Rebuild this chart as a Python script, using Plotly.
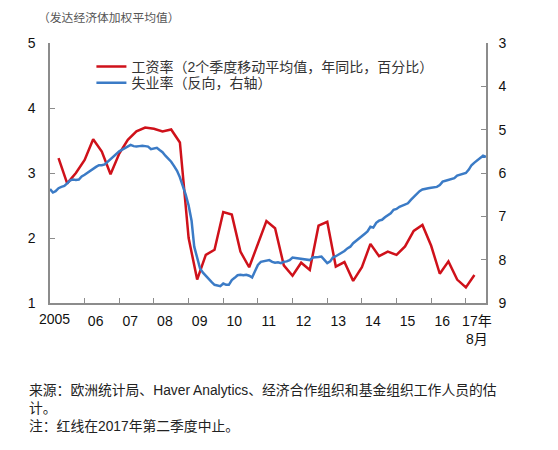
import pandas as pd
import plotly.graph_objects as go

# Wage growth (2-quarter moving average, y/y, percent) - quarterly, 2005Q2 .. 2017Q2
wage_dates = pd.date_range(start="2005-04-01", periods=49, freq="QS")
wage_values = [
    3.23, 2.84, 3.00,
    3.20, 3.52, 3.33, 2.98,
    3.30, 3.51, 3.64, 3.70,
    3.68, 3.64, 3.67, 3.47,
    2.00, 1.36, 1.74, 1.82,
    2.40, 2.36, 1.79, 1.55,
    1.92, 2.26, 2.15, 1.58,
    1.42, 1.62, 1.51, 2.19,
    2.25, 1.56, 1.63, 1.34,
    1.55, 1.91, 1.72, 1.79,
    1.74, 1.87, 2.11, 2.20,
    1.88, 1.45, 1.64, 1.36,
    1.24, 1.43,
]

# Unemployment rate (inverted, right axis) - monthly, 2005-01 .. 2017-08
unemp_dates = pd.date_range(start="2005-01-01", end="2017-08-01", freq="MS")
unemp_values = [
    6.37, 6.45, 6.42, 6.35, 6.32, 6.30, 6.24, 6.17, 6.15, 6.16, 6.15, 6.08,
    6.04, 5.99, 5.95, 5.90, 5.86, 5.82, 5.82, 5.80, 5.74, 5.66, 5.60, 5.55,
    5.50, 5.46, 5.42, 5.38, 5.35, 5.38, 5.39, 5.38, 5.37, 5.38, 5.39, 5.45,
    5.44, 5.42, 5.47, 5.52, 5.60, 5.67, 5.74, 5.84, 5.95, 6.10, 6.28, 6.50,
    6.75, 7.10, 7.70, 7.95, 8.20, 8.30, 8.38, 8.45, 8.52, 8.58, 8.60, 8.61,
    8.55, 8.58, 8.58, 8.47, 8.42, 8.36, 8.35, 8.36, 8.35, 8.37, 8.41, 8.25,
    8.12, 8.05, 8.04, 8.02, 8.01, 8.05, 8.07, 8.06, 8.08, 8.05, 8.04, 8.01,
    7.95, 7.96, 7.97, 7.98, 7.99, 8.00, 8.01, 7.95, 7.95, 7.94, 7.93, 8.00,
    8.08, 8.04, 7.95, 7.92, 7.88, 7.85, 7.80, 7.74, 7.70, 7.62, 7.57, 7.51,
    7.47, 7.40, 7.35, 7.24, 7.26, 7.15, 7.10, 7.08, 7.02, 6.97, 6.93, 6.85,
    6.83, 6.78, 6.76, 6.72, 6.70, 6.62, 6.55, 6.48, 6.42, 6.38, 6.36, 6.35,
    6.34, 6.33, 6.32, 6.28, 6.20, 6.18, 6.16, 6.15, 6.12, 6.06, 6.04, 6.02,
    6.00, 5.92, 5.82, 5.76, 5.70, 5.64, 5.60, 5.63,
]

year_ticks = [f"{y}-01-01" for y in range(2005, 2018)]
year_labels = ["", "06", "07", "08", "09", "10", "11", "12", "13", "14", "15", "16", "17年<br>8月"]

left_ticks = [1, 2, 3, 4, 5]
right_ticks = [3, 4, 5, 6, 7, 8, 9]

wage_name = "工资率（2个季度移动平均值，年同比，百分比）"
unemp_name = "失业率（反向，右轴）"

RED = "#cf111a"
BLUE = "#3b7bc6"
AXIS = "#8c8c8c"
FONT = "Arial, 'Liberation Sans', 'Noto Sans CJK SC', sans-serif"

fig = go.Figure()
fig.add_trace(go.Scatter(x=wage_dates, y=wage_values, name=wage_name, mode="lines",
                         line=dict(color=RED, width=2.5), legend="legend"))
fig.add_trace(go.Scatter(x=unemp_dates, y=unemp_values, name=unemp_name, mode="lines",
                         line=dict(color=BLUE, width=2.5), yaxis="y2", legend="legend2"))

legend_style = dict(xanchor="left", yanchor="middle", bgcolor="rgba(0,0,0,0)",
                    itemwidth=30, font=dict(size=14, color="#333"))

fig.update_layout(
    width=558, height=450,
    margin=dict(l=42, r=80, t=35, b=155),
    paper_bgcolor="white", plot_bgcolor="white",
    font=dict(family=FONT, color="#111"),
    showlegend=True,
    legend=dict(x=0.095, y=0.908, **legend_style),
    legend2=dict(x=0.095, y=0.846, **legend_style),
    xaxis=dict(type="date", range=["2005-01-01", "2017-08-01"],
               tickvals=year_ticks, ticktext=year_labels,
               ticks="inside", ticklen=5, tickcolor=AXIS,
               showline=True, linecolor=AXIS, linewidth=1.5,
               showgrid=False, zeroline=False,
               ticklabelshift=11, ticklabelstandoff=4,
               tickfont=dict(size=14)),
    yaxis=dict(range=[1, 5], tickvals=left_ticks,
               ticks="inside", ticklen=5, tickcolor=AXIS,
               showline=True, linecolor=AXIS, linewidth=1.5,
               showgrid=False, zeroline=False, ticklabelstandoff=10,
               tickfont=dict(size=14)),
    yaxis2=dict(range=[9, 3], tickvals=right_ticks, overlaying="y", side="right",
                ticks="inside", ticklen=5, tickcolor=AXIS,
                showline=True, linecolor=AXIS, linewidth=1.5,
                showgrid=False, zeroline=False, ticklabelstandoff=8,
                tickfont=dict(size=14)),
)

# axis start label and captions
fig.add_annotation(text="2005", x="2005-01-01", y=0, xref="x", yref="paper",
                   xanchor="center", yanchor="top", xshift=4, yshift=-6,
                   showarrow=False, font=dict(size=14))
fig.add_annotation(text="（发达经济体加权平均值）", x=-0.031, y=1.097, xref="paper", yref="paper",
                   xanchor="left", yanchor="middle", align="left", showarrow=False,
                   font=dict(size=11.8, color="#555"))
foot_lines = ["来源：欧洲统计局、Haver Analytics、经济合作组织和基金组织工作人员的估",
              "计。",
              "注：红线在2017年第二季度中止。"]
for i, line in enumerate(foot_lines):
    fig.add_annotation(text=line, x=-0.053, y=-0.335 - i * 0.069, xref="paper", yref="paper",
                       xanchor="left", yanchor="middle", align="left", showarrow=False,
                       font=dict(size=13.8, color="#222"))

fig.write_html("out.html")
